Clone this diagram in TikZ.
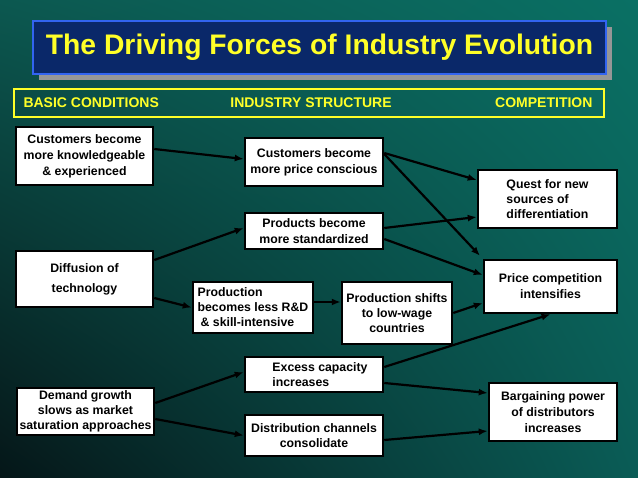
\documentclass[tikz,border=0pt]{standalone}
\usepackage{fontspec}
\setmainfont{Liberation Sans}
\usetikzlibrary{arrows.meta,shadows,shadings}

\definecolor{bgul}{RGB}{12,88,80}
\definecolor{bgur}{RGB}{10,112,100}
\definecolor{bgll}{RGB}{5,22,24}
\definecolor{bglr}{RGB}{10,92,86}
\definecolor{titleblue}{RGB}{10,40,105}
\definecolor{titleedge}{RGB}{50,100,240}
\definecolor{titletext}{RGB}{255,255,40}
\definecolor{shadowgray}{RGB}{150,150,150}

\tikzset{
  forcebox/.style={draw=black, line width=2.5pt, fill=white, inner sep=1pt,
    font=\fontsize{12.3}{16}\selectfont\bfseries, align=center},
  driver/.style={line width=2.2pt, -{Latex[length=9pt,width=7pt]}},
  header/.style={text=titletext, font=\fontsize{14}{16}\selectfont\bfseries}
}

\begin{document}
\begin{tikzpicture}[x=1pt,y=-1pt]
  \useasboundingbox (0,0) rectangle (638,478);
  \shade[upper left=bgul, upper right=bgur, lower left=bgll, lower right=bglr]
    (0,0) rectangle (638,478);

  % title and column headers
  \node (title) [draw=titleedge, fill=titleblue, line width=2.5pt,
    minimum width=573pt, minimum height=53pt, text=titletext,
    font=\fontsize{28.3}{32}\selectfont\bfseries,
    drop shadow={shadow xshift=6pt, shadow yshift=-6pt, fill=shadowgray, opacity=1}]
    at (319.5,47.5) { The Driving Forces of Industry Evolution };

  \node (bar) [draw=titletext, line width=2.5pt, minimum width=590pt, minimum height=28pt]
    at (309,103) {};
  \node (basic) [header, anchor=west] at (20,103) { BASIC CONDITIONS };
  \node (struct) [header] at (311,103) { INDUSTRY STRUCTURE };
  \node (comp) [header, anchor=east] at (596,103) { COMPETITION };

  % basic conditions
  \node (know) [forcebox, minimum width=137pt, minimum height=58pt] at (84.5,156)
    { Customers become\\more knowledgeable\\\& experienced };
  \node (diffusion) [forcebox, minimum width=137pt, minimum height=56pt] at (84.5,279)
    { Diffusion of\\[4pt]technology };
  \node (demand) [forcebox, minimum width=137pt, minimum height=47pt,
    font=\fontsize{12.3}{15}\selectfont\bfseries] at (85.5,411.5)
    { Demand growth\\slows as market\\saturation approaches };

  % industry structure
  \node (pricecons) [forcebox, minimum width=138pt, minimum height=48pt] at (314,162)
    { Customers become\\more price conscious };
  \node (stdized) [forcebox, minimum width=138pt, minimum height=36pt] at (314,231)
    { Products become\\more standardized };
  \node (lessrd) [forcebox, minimum width=120pt, minimum height=51pt, align=left,
    font=\fontsize{12.3}{15}\selectfont\bfseries] at (253,307.5)
    { Production\\becomes less R\&D\\\hspace{3pt}\& skill-intensive };
  \node (lowwage) [forcebox, minimum width=110pt, minimum height=62pt,
    font=\fontsize{12.3}{15}\selectfont\bfseries] at (397,313)
    { Production shifts\\to low-wage\\countries };
  \node (excess) [forcebox, minimum width=138pt, minimum height=35pt, align=left,
    font=\fontsize{12.3}{15}\selectfont\bfseries] at (314,374.5)
    { \hspace{12pt}Excess capacity\\\hspace{12pt}increases };
  \node (distrib) [forcebox, minimum width=138pt, minimum height=41pt,
    font=\fontsize{12.3}{15}\selectfont\bfseries] at (314,435.5)
    { Distribution channels\\consolidate };

  % competition
  \node (quest) [forcebox, minimum width=139pt, minimum height=58pt, align=left,
    font=\fontsize{12.3}{15}\selectfont\bfseries] at (547.5,199)
    { Quest for new\\sources of\\differentiation };
  \node (pricecomp) [forcebox, minimum width=133pt, minimum height=53pt] at (550.5,286.5)
    { Price competition\\intensifies };
  \node (bargain) [forcebox, minimum width=128pt, minimum height=58pt] at (553,412)
    { Bargaining power\\of distributors\\increases };

  % arrows
  \draw [driver] ([yshift=7pt]know.east) -- ([yshift=3pt]pricecons.west);
  \draw [driver] ([yshift=19pt]diffusion.east) -- ([yshift=3pt]stdized.west);
  \draw [driver] ([yshift=-19pt]diffusion.east) -- (lessrd.west);
  \draw [driver] ([yshift=8.5pt]demand.east) -- ([yshift=2.5pt]excess.west);
  \draw [driver] ([yshift=-7.5pt]demand.east) -- (distrib.west);

  \draw [driver] ([yshift=9pt]pricecons.east) -- ([yshift=19pt]quest.west);
  \draw [driver, shorten >=4pt] ([yshift=8pt]pricecons.east) -- (pricecomp.north west);
  \draw [driver] ([yshift=3pt]stdized.east) -- ([yshift=-18pt]quest.west);
  \draw [driver] ([yshift=-8pt]stdized.east) -- ([yshift=11.5pt]pricecomp.west);
  \draw [driver] ([yshift=5.5pt]lessrd.east) -- ([yshift=11pt]lowwage.west);
  \draw [driver] (lowwage.east) -- ([yshift=-16.5pt]pricecomp.west);
  \draw [driver] ([yshift=7.5pt]excess.east) -- (pricecomp.south);
  \draw [driver] ([yshift=-8.5pt]excess.east) -- ([yshift=19pt]bargain.west);
  \draw [driver] ([yshift=-4.5pt]distrib.east) -- ([yshift=-19pt]bargain.west);
\end{tikzpicture}
\end{document}
